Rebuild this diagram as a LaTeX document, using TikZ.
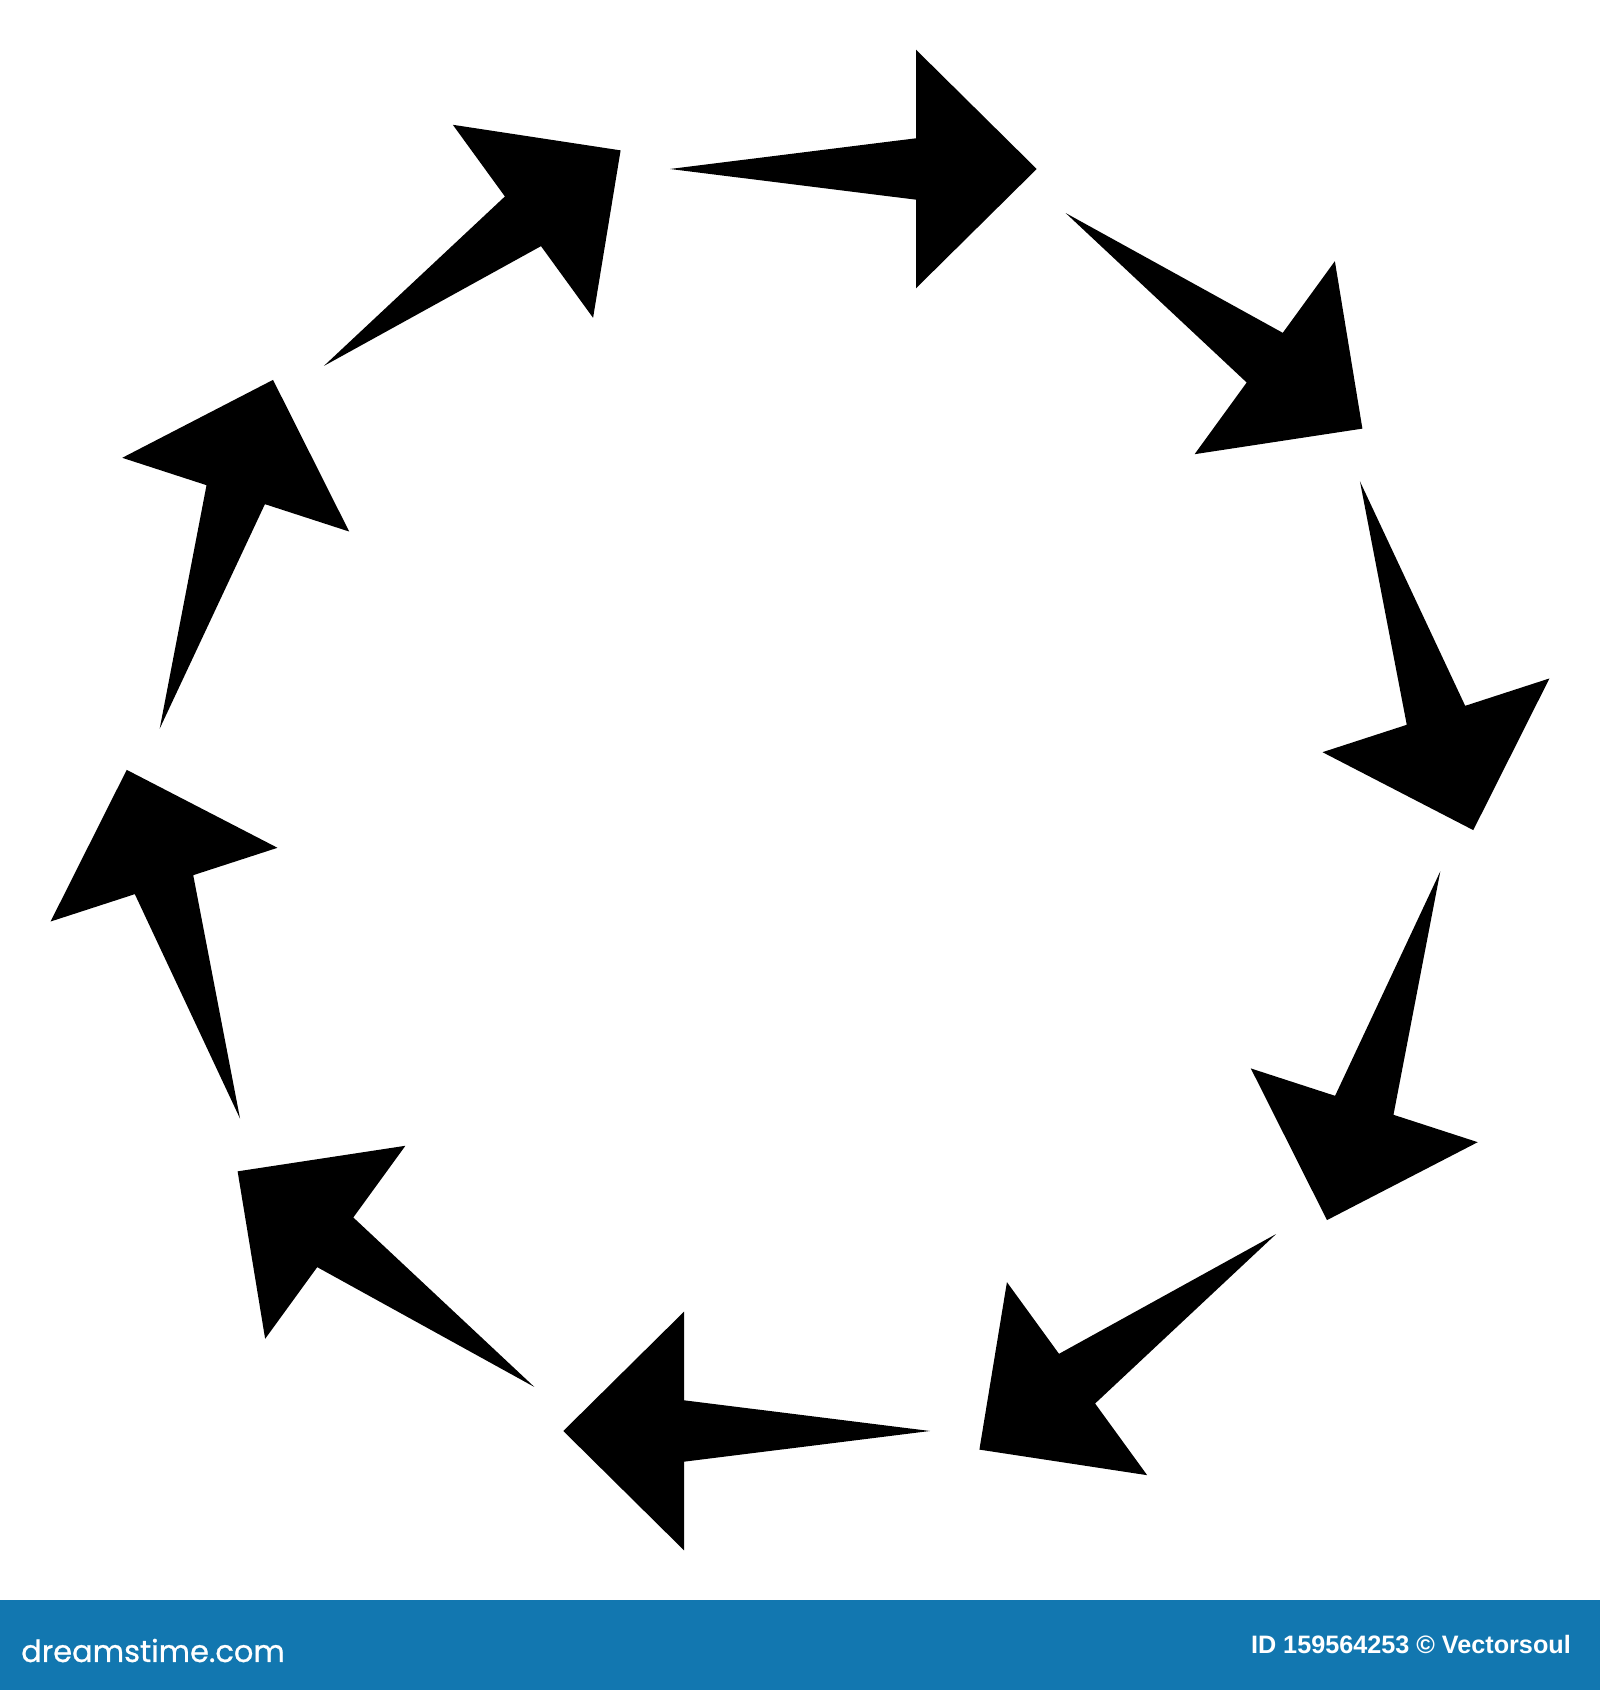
\documentclass[tikz,border=0pt]{standalone}
\usepackage{fontspec}
\newfontfamily\logofont[FakeBold=0.8]{Poppins}
\newfontfamily\idfont{Liberation Sans}
\definecolor{footblue}{RGB}{18,119,176}
\tikzset{
  arrowshape/.style={fill=black, draw=none},
  footertext/.style={text=white, inner sep=0pt}
}
\begin{document}
\begin{tikzpicture}[x=1pt,y=1pt]
\useasboundingbox (0,0) rectangle (1600,1690);
\fill[white] (0,0) rectangle (1600,1690);
\coordinate (c) at (800,890);
\foreach \k in {0,...,9}{
  \begin{scope}[shift={(c)}, rotate=-36*\k]
    \fill[arrowshape] (-130,631) -- (116,661.7) -- (116,750.3) -- (236.7,631)
      -- (116,511.7) -- (116,600.3) -- cycle;
  \end{scope}
}
\fill[footblue] (0,0) rectangle (1600,90);
\node[footertext, anchor=base west, font=\logofont\fontsize{30.5}{36}\selectfont] (logo) at (21,28) {dreamstime.com};
\node[footertext, anchor=base east, font=\idfont\bfseries\fontsize{25.2}{30}\selectfont] (id) at (1571,36) {ID 159564253 © Vectorsoul};
\end{tikzpicture}
\end{document}
